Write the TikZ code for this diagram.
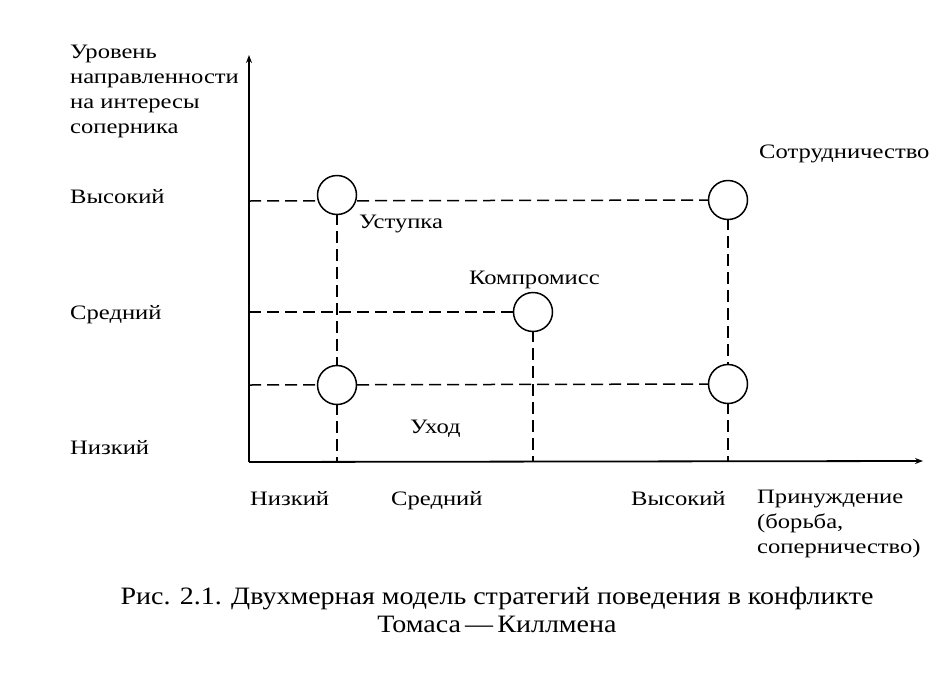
\documentclass[tikz,border=0pt]{standalone}
\usepackage{fontspec}
\setmainfont{Liberation Serif}
\newfontfamily\lblfont[FakeStretch=1.2]{Liberation Serif}
\newfontfamily\capfont[FakeStretch=1.12]{Liberation Serif}
\usetikzlibrary{arrows.meta}
\begin{document}
\begin{tikzpicture}[x=1pt,y=-1pt,
  axisline/.style={line width=1.8pt,-{Stealth[length=8pt,width=6pt]}},
  dsh/.style={line width=1.5pt,dash pattern=on 12pt off 6pt},
  pt/.style={circle,draw,fill=white,line width=1.5pt,minimum size=39pt,inner sep=0pt},
  lbl/.style={font=\lblfont\fontsize{20.5}{25}\selectfont,inner sep=0pt,anchor=base west,align=left},
  captxt/.style={font=\capfont\fontsize{25}{28}\selectfont,inner sep=0pt,anchor=base}]
\useasboundingbox (0,0) rectangle (942,672);
\fill[white] (0,0) rectangle (942,672);
% axes
\coordinate (o) at (249,462);
\coordinate (ytop) at (249,55);
\coordinate (xend) at (923,461);
\draw[axisline] (o) -- (ytop);
\draw[axisline] (o) -- (xend);
% circle positions
\coordinate (cu) at (337,195);
\coordinate (cc) at (728,200);
\coordinate (ck) at (533,312);
\coordinate (cx) at (337,385);
\coordinate (cp) at (728,384);
% dashed guide lines
\coordinate (h1) at (249,201);
\coordinate (h2) at (249,312);
\coordinate (h3) at (249,385);
\coordinate (v1) at (337,461);
\coordinate (v2) at (533,461);
\coordinate (v3) at (728,461);
\draw[dsh] (h1) -- (cc);
\draw[dsh] (h2) -- (ck);
\draw[dsh] (h3) -- (cp);
\draw[dsh] (cu) -- (cx);
\draw[dsh] (cx) -- (v1);
\draw[dsh] (ck) -- (v2);
\draw[dsh] (cc) -- (cp);
\draw[dsh] (cp) -- (v3);
% circles
\node[pt] (u) at (cu) {};
\node[pt] (c) at (cc) {};
\node[pt] (k) at (ck) {};
\node[pt] (x) at (cx) {};
\node[pt] (p) at (cp) {};
% y-axis title (base = last line)
\node[lbl] (ytitle) at (70,133) {Уровень\\направленности\\на интересы\\соперника};
% y labels
\node[lbl] (yh) at (70,203) {Высокий};
\node[lbl] (ym) at (70,319) {Средний};
\node[lbl] (yl) at (70,454) {Низкий};
% strategy labels
\node[lbl] (lu) at (359,228) {Уступка};
\node[lbl] (lc) at (759,158) {Сотрудничество};
\node[lbl] (lk) at (469,284) {Компромисс};
\node[lbl] (lx) at (410,433) {Уход};
% x labels
\node[lbl] (xl) at (250,505) {Низкий};
\node[lbl] (xm) at (391,505) {Средний};
\node[lbl] (xh) at (631,505) {Высокий};
\node[lbl] (lp) at (757,553) {Принуждение\\(борьба,\\соперничество)};
% caption
\node[captxt] (cap1) at (497,604) {Рис. 2.1. Двухмерная модель стратегий поведения в конфликте};
\node[captxt] (cap2) at (497,632) {Томаса\,—\,Киллмена};
\end{tikzpicture}
\end{document}
